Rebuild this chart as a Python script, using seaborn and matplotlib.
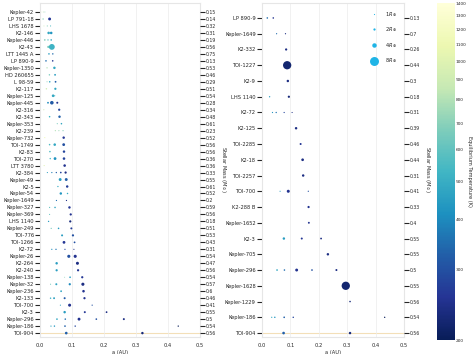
import numpy as np
import pandas as pd
import seaborn as sns
import matplotlib.pyplot as plt
from matplotlib.colors import LogNorm
from matplotlib.lines import Line2D

# ---- left panel: systems, host mass, planet semi-major axis / radius / Teq ----
left_names = ["Kepler-42", "LP 791-18", "LHS 1678", "K2-146", "Kepler-446", "K2-43",
              "LTT 1445 A", "LP 890-9", "Kepler-1350", "HD 260655", "L 98-59", "K2-117",
              "Kepler-125", "Kepler-445", "K2-316", "K2-343", "Kepler-353", "K2-239",
              "Kepler-732", "TOI-1749", "K2-83", "TOI-270", "LTT 3780", "K2-384",
              "Kepler-49", "K2-5", "Kepler-54", "Kepler-1649", "Kepler-327", "Kepler-369",
              "LHS 1140", "Kepler-249", "TOI-776", "TOI-1266", "K2-72", "Kepler-26",
              "K2-264", "K2-240", "Kepler-138", "Kepler-32", "Kepler-236", "K2-133",
              "TOI-700", "K2-3", "Kepler-296", "Kepler-186", "TOI-904"]
left_mass = [0.15, 0.14, 0.32, 0.31, 0.19, 0.56, 0.75, 0.13, 0.53, 0.46, 0.29, 0.51,
             0.54, 0.28, 0.34, 0.48, 0.61, 0.23, 0.52, 0.56, 0.56, 0.36, 0.36, 0.33,
             0.55, 0.61, 0.52, 0.2, 0.59, 0.56, 0.18, 0.51, 0.53, 0.43, 0.31, 0.54,
             0.47, 0.56, 0.54, 0.57, 0.6, 0.46, 0.41, 0.55, 0.5, 0.54, 0.56]
left_a = [[0.006, 0.0116, 0.0154], [0.0097, 0.03], [0.0124, 0.0228, 0.033], [0.027, 0.035],
          [0.015, 0.025, 0.035], [0.026, 0.037], [0.028, 0.040], [0.0187, 0.0397],
          [0.022, 0.045], [0.0294, 0.0471], [0.022, 0.0304, 0.0486], [0.02, 0.048],
          [0.041, 0.046], [0.025, 0.037, 0.054], [0.012, 0.06], [0.030, 0.061],
          [0.054, 0.067], [0.048, 0.059, 0.072], [0.015, 0.074], [0.030, 0.046, 0.074],
          [0.031, 0.075], [0.032, 0.047, 0.075], [0.013, 0.077],
          [0.023, 0.037, 0.051, 0.065, 0.080], [0.063, 0.082], [0.056, 0.085],
          [0.065, 0.086], [0.0514, 0.0827], [0.03, 0.047, 0.092], [0.03, 0.096],
          [0.0268, 0.0946], [0.035, 0.058, 0.098], [0.069, 0.103], [0.075, 0.108],
          [0.0369, 0.050, 0.078, 0.106], [0.09, 0.11], [0.052, 0.117], [0.052, 0.119],
          [0.077, 0.094, 0.132], [0.033, 0.051, 0.093, 0.134], [0.066, 0.136],
          [0.033, 0.044, 0.077, 0.139], [0.0637, 0.0925, 0.163], [0.077, 0.140, 0.208],
          [0.053, 0.079, 0.122, 0.176, 0.262], [0.0343, 0.0451, 0.0781, 0.11, 0.432],
          [0.082, 0.32]]
left_r = [[0.6, 0.8, 0.75], [1.2, 2.6], [0.8, 1.0, 1.0], [2.3, 2.3], [1.5, 1.2, 1.4],
          [2.0, 5.2], [1.4, 1.3], [1.4, 1.4], [1.2, 2.2], [1.3, 1.6], [0.9, 1.4, 1.6],
          [1.3, 2.0], [2.4, 1.0], [1.6, 3.2, 1.8], [1.0, 2.0], [1.4, 2.2], [1.0, 1.4],
          [1.1, 1.0, 1.1], [1.0, 2.2], [1.4, 2.3, 2.5], [1.4, 2.2], [1.3, 2.5, 2.3],
          [1.0, 2.3], [1.0, 1.1, 1.2, 1.5, 2.0], [2.6, 2.6], [1.2, 2.2], [2.2, 1.3],
          [1.1, 1.1], [1.1, 1.4, 2.2], [1.0, 2.0], [1.2, 2.0], [1.1, 1.4, 1.8],
          [1.8, 2.0], [2.5, 1.6], [1.1, 1.2, 1.1, 1.0], [2.8, 2.8], [2.2, 2.7],
          [2.0, 2.0], [0.8, 1.5, 2.0], [1.0, 1.8, 2.0, 2.8], [1.6, 2.3],
          [1.3, 1.7, 1.8, 2.0], [1.0, 2.7, 1.1], [2.2, 1.8, 1.6],
          [1.5, 1.4, 2.6, 1.5, 1.8], [1.1, 1.3, 1.5, 1.3, 1.2], [2.4, 2.2]]
left_t = [[900, 800, 700], [700, 260], [900, 700, 560], [480, 430], [700, 560, 480],
          [650, 520], [450, 350], [350, 250], [800, 480], [650, 450], [700, 480, 330],
          [900, 480], [480, 550], [400, 320, 250], [900, 280], [520, 330], [650, 480],
          [800, 750, 700], [1100, 260], [550, 480, 300], [550, 280], [550, 420, 280],
          [1000, 250], [450, 380, 320, 280, 240], [450, 330], [500, 270], [430, 500],
          [350, 240], [600, 480, 260], [600, 250], [450, 230], [650, 450, 270],
          [450, 300], [260, 300], [420, 360, 280, 240], [300, 250], [450, 240],
          [450, 260], [700, 450, 260], [650, 470, 400, 240], [480, 250],
          [500, 460, 320, 250], [450, 250, 300], [450, 260, 240],
          [480, 350, 250, 300, 240], [480, 430, 330, 280, 190], [330, 230]]

# ---- right panel ----
right_names = ["LP 890-9", "Kepler-1649", "K2-332", "TOI-1227", "K2-9", "LHS 1140", "K2-72",
               "K2-125", "TOI-2285", "K2-18", "TOI-2257", "TOI-700", "K2-288 B",
               "Kepler-1652", "K2-3", "Kepler-705", "Kepler-296", "Kepler-1628",
               "Kepler-1229", "Kepler-186", "TOI-904"]
right_mass = [0.13, 0.7, 0.26, 0.44, 0.3, 0.18, 0.31, 0.39, 0.46, 0.44, 0.31, 0.41,
              0.33, 0.4, 0.55, 0.55, 0.5, 0.55, 0.56, 0.54, 0.56]
right_a = [[0.0187, 0.0397], [0.0514, 0.0827], [0.085], [0.0886], [0.091], [0.0268, 0.0946],
           [0.0369, 0.050, 0.078, 0.106], [0.12], [0.136], [0.143], [0.145],
           [0.0637, 0.0925, 0.163], [0.164], [0.165], [0.077, 0.140, 0.208], [0.232],
           [0.053, 0.079, 0.122, 0.176, 0.262], [0.295], [0.31],
           [0.0343, 0.0451, 0.0781, 0.11, 0.432], [0.076, 0.31]]
right_r = [[1.4, 1.4], [1.1, 1.1], [2.0], [7.4], [2.2], [1.2, 2.0],
           [1.1, 1.2, 1.1, 1.0], [2.2], [1.8], [2.4], [2.2], [1.0, 2.7, 1.1], [2.0],
           [1.7], [2.2, 1.8, 1.6], [2.2], [1.5, 1.4, 2.6, 1.5, 1.8], [7.4], [1.4],
           [1.1, 1.3, 1.5, 1.3, 1.2], [2.4, 2.2]]
right_t = [[350, 250], [350, 240], [240], [220], [240], [450, 230], [420, 360, 280, 240],
           [240], [260], [240], [240], [450, 250, 300], [250], [250], [450, 260, 240],
           [240], [480, 350, 250, 300, 240], [220], [230], [480, 430, 330, 280, 190],
           [330, 230]]

cbar_ticks = [200, 300, 400, 500, 600, 700, 800, 900, 1000, 1100, 1200, 1300, 1400]
legend_radii = [1, 2, 4, 8]


def to_frame(a, r, t):
    rows = []
    for i in range(len(a)):
        for ai, ri, ti in zip(a[i], r[i], t[i]):
            rows.append({"row": i, "a": ai, "r2": ri ** 2, "teq": ti})
    return pd.DataFrame(rows)


sns.set_style("whitegrid", {"grid.color": "#ececec", "axes.edgecolor": "#e6e6e6"})
plt.rcParams["font.family"] = ["DejaVu Sans"]

W, H = 474, 354
fig = plt.figure(figsize=(W / 100, H / 100), dpi=100)
ax1 = fig.add_axes([40 / W, 17 / H, 160 / W, 334 / H])
ax2 = fig.add_axes([262 / W, 17 / H, 142 / W, 334 / H])
cax = fig.add_axes([437 / W, 14 / H, 18 / W, 337 / H])

norm = LogNorm(200, 1400)
k = 0.65  # marker area per R_earth^2

panels = [
    (ax1, to_frame(left_a, left_r, left_t), left_names, left_mass, (46.56, -1.29)),
    (ax2, to_frame(right_a, right_r, right_t), right_names, right_mass, (20.25, -0.95)),
]
for ax, df, names, mass, ylim in panels:
    n = len(names)
    ax.axhline(n - 1, color="#f3dfb8", lw=0.8, zorder=0)
    sns.scatterplot(data=df, x="a", y="row", hue="teq", palette="YlGnBu_r", hue_norm=norm,
                    size="r2", sizes=(0, k * 100), size_norm=(0, 100), linewidth=0,
                    legend=False, ax=ax, zorder=3)
    ax.set_xlim(0, 0.5)
    ax.set_xticks([0, 0.1, 0.2, 0.3, 0.4, 0.5])
    ax.set_xticklabels(["0.0", "0.1", "0.2", "0.3", "0.4", "0.5"], fontsize=3.7)
    ax.set_yticks(range(n))
    ax.set_yticklabels(names, fontsize=3.7)
    ax.set_ylim(*ylim)
    ax.yaxis.grid(False)
    ax.xaxis.grid(True, lw=0.5)
    ax.tick_params(pad=1)
    ax.set_xlabel("a (AU)", fontsize=3.7, labelpad=1)
    ax.set_ylabel("")

    tw = ax.twinx()
    tw.set_ylim(*ylim)
    tw.set_yticks(range(n))
    tw.set_yticklabels([str(m) for m in mass], fontsize=3.3)
    tw.grid(False)
    tw.tick_params(pad=1)
    for s in tw.spines.values():
        s.set_visible(False)
    tw.set_ylabel("Stellar Mass ($M_\\odot$)", rotation=270, va="bottom",
                  fontsize=3.7, labelpad=2)

handles = [Line2D([], [], marker="o", linestyle="", markersize=np.sqrt(k) * r,
                  color="#1fb4e6", markeredgewidth=0) for r in legend_radii]
labels = [f"{r}$R_\\oplus$" for r in legend_radii]
ax2.legend(handles, labels, loc="upper right", frameon=False, fontsize=3.7,
           labelspacing=1.3, handletextpad=1.2, borderaxespad=0.9)

sm = plt.cm.ScalarMappable(norm=norm, cmap="YlGnBu_r")
cb = fig.colorbar(sm, cax=cax)
cb.ax.minorticks_off()
cb.set_ticks(cbar_ticks)
cb.set_ticklabels([str(v) for v in cbar_ticks])
cb.ax.tick_params(labelsize=3.1, length=0, pad=0.5)
cb.outline.set_visible(False)
cb.set_label("Equilibrium Temperature (K)", rotation=270, va="bottom", fontsize=3.6,
             labelpad=0.5)

fig.savefig("out.png", dpi=100)
